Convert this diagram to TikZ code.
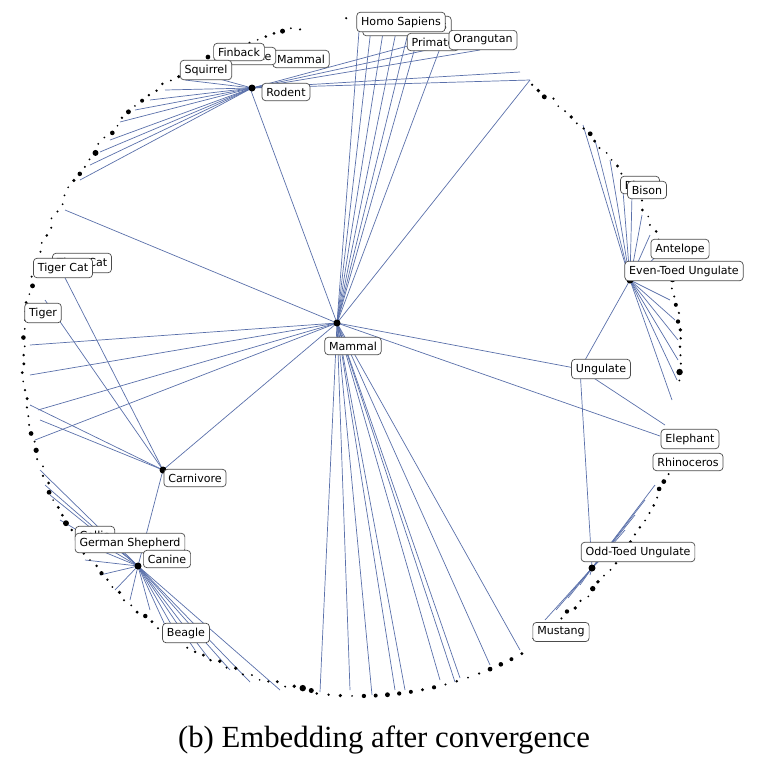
\documentclass[tikz,border=0pt]{standalone}
\usepackage{fontspec}
\newfontfamily\lab{DejaVu Sans}
\newfontfamily\capf{Liberation Serif}
\definecolor{edgec}{HTML}{5A70AA}
\begin{document}
\begin{tikzpicture}[x=0.02cm,y=-0.02cm,
  lbl/.style={draw=black!70,fill=white,rounded corners=2pt,font=\lab\fontsize{6.3}{7}\selectfont,inner sep=2.5pt},
  edge/.style={draw=edgec,line width=0.4pt}]
\useasboundingbox (0,0) rectangle (768,772);
\pgfmathsetseed{7}
\coordinate (M) at (337,323);
\coordinate (R) at (252,88);
\coordinate (C) at (163,470);
\coordinate (K) at (138,566);
\coordinate (E) at (630,280);
\coordinate (O) at (592,568);
\coordinate (U) at (580,369);
\coordinate (El) at (660,436);
\foreach \p in {(360,18),(372,20),(385,20),(398,22),(410,25),(420,30),(445,35),(530,80),(250,88),(65,210),(30,345),(30,375),(38,410),(35,440),(320,692),(372,695),(395,690),(405,690),(440,680),(460,678),(490,665),(520,650),(455,682),(350,690)}
  \draw[edge] (M) -- \p;
\draw[edge] (M) -- (U);
\draw[edge] (M) -- (El);
\draw[edge] (M) -- (C);
\foreach \p in {(100,152),(110,140),(120,122),(135,110),(150,100),(165,90),(185,80),(205,75),(90,165),(80,180),(530,80),(520,72),(450,45),(480,50),(430,40)}
  \draw[edge] (R) -- \p;
\foreach \p in {(60,268),(40,420),(30,405),(K),(45,300)}
  \draw[edge] (C) -- \p;
\foreach \p in {(250,682),(280,690),(230,670),(210,660),(195,650),(180,640),(165,625),(150,610),(130,600),(115,590),(100,575),(85,560),(75,540),(60,520),(50,495),(40,470),(45,485)}
  \draw[edge] (K) -- \p;
\foreach \p in {(583,125),(595,140),(610,160),(622,178),(632,195),(642,215),(650,235),(658,255),(665,280),(670,300),(675,320),(678,340),(678,360),(677,380),(672,400)}
  \draw[edge] (E) -- \p;
\draw[edge] (U) -- (E);
\draw[edge] (U) -- (O);
\draw[edge] (U) -- (665,425);
\foreach \p in {(655,485),(645,500),(635,515),(625,530),(612,545),(600,560),(590,575),(580,585),(568,598),(556,610),(545,620)}
  \draw[edge] (O) -- \p;
% dots along circle
\foreach \a in {100,101.5,...,262}{
  \pgfmathsetmacro\s{0.9+2.6*rnd*rnd}
  \pgfmathsetmacro\r{333+4*rnd}
  \fill (358+\r*cos \a,358-\r*sin \a) circle (\s);
}
\foreach \a in {263,265,...,300}{
  \pgfmathsetmacro\s{0.9+2.8*rnd*rnd}
  \fill (358+338*cos \a,358-338*sin \a) circle (\s);
}
\foreach \a in {302,303.5,...,342}{
  \pgfmathsetmacro\s{0.9+2.8*rnd*rnd}
  \pgfmathsetmacro\r{328+4*rnd}
  \fill (358+\r*cos \a,358-\r*sin \a) circle (\s);
}
\foreach \a in {-4,-2.5,...,58}{
  \pgfmathsetmacro\s{0.9+2.6*rnd*rnd}
  \pgfmathsetmacro\r{320+5*rnd}
  \fill (358+\r*cos \a,358-\r*sin \a) circle (\s);
}
\foreach \a in {70,72,...,92}{
  \pgfmathsetmacro\s{0.9+2.8*rnd*rnd}
  \fill (358+340*cos \a,358-340*sin \a) circle (\s);
}
\foreach \c in {M,K,R,C,E,O}\fill (\c) circle (3.5);
% labels
\node[lbl] (hs2) at (407,26) {Homo Sapiens};
\node[lbl] (hs) at (401,22) {Homo Sapiens};
\node[lbl] (pri) at (433,42) {Primate};
\node[lbl] (org) at (483,40) {Orangutan};
\node[lbl] (mam2) at (301,59) {Mammal};
\node[lbl] (fin2) at (250,56) {Primate};
\node[lbl] (fin) at (239,52) {Finback};
\node[lbl] (sq) at (206,70) {Squirrel};
\node[lbl] (rod) at (286,92) {Rodent};
\node[lbl] (bis2) at (640,185) {Bison};
\node[lbl] (bis) at (647,190) {Bison};
\node[lbl] (ant) at (680,249) {Antelope};
\node[lbl] (etu) at (684,271) {Even-Toed Ungulate};
\node[lbl] (tc3) at (82,263) {Tiger Cat};
\node[lbl] (tc) at (63,268) {Tiger Cat};
\node[lbl] (tig) at (43,313) {Tiger};
\node[lbl] (mam) at (353,346) {Mammal};
\node[lbl] (ung) at (601,369) {Ungulate};
\node[lbl] (ele) at (690,439) {Elephant};
\node[lbl] (rhi) at (688,462) {Rhinoceros};
\node[lbl] (car) at (195,478) {Carnivore};
\node[lbl] (gs2) at (95,535) {Collie};
\node[lbl] (gs) at (130,543) {German Shepherd};
\node[lbl] (can) at (167,559) {Canine};
\node[lbl] (otu) at (638,552) {Odd-Toed Ungulate};
\node[lbl] (bea) at (186,633) {Beagle};
\node[lbl] (mus) at (561,632) {Mustang};
\node[font=\capf\fontsize{17.5}{20}\selectfont] (cap) at (384,740) {(b) Embedding after convergence};
\end{tikzpicture}
\end{document}
